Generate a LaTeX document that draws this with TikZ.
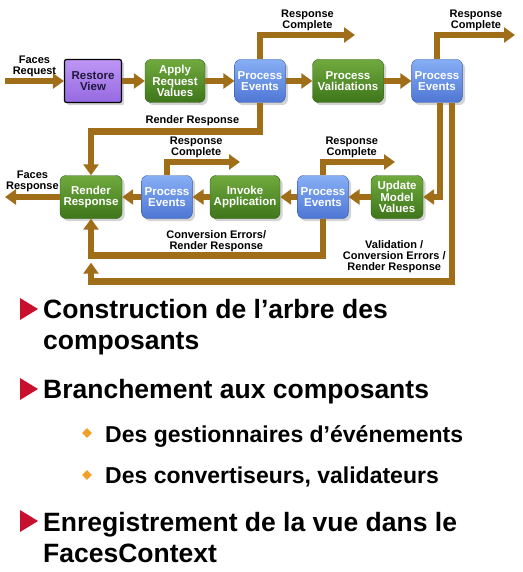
\documentclass[tikz,border=0pt]{standalone}
\usepackage{fontspec}
\setmainfont{Liberation Sans}
\usepackage{xcolor}
\usepackage{tikz}
\usetikzlibrary{positioning, shapes.geometric, arrows.meta, shadows}
\definecolor{flow}{RGB}{160,110,25}
\definecolor{phasetop}{RGB}{112,170,62}
\definecolor{phasebot}{RGB}{62,118,26}
\definecolor{phaseline}{RGB}{48,92,20}
\definecolor{eventtop}{RGB}{135,175,245}
\definecolor{eventbot}{RGB}{78,118,212}
\definecolor{eventline}{RGB}{58,90,168}
\definecolor{restoretop}{RGB}{190,150,245}
\definecolor{restorebot}{RGB}{150,105,225}
\definecolor{restoretext}{RGB}{30,25,60}
\definecolor{marker}{RGB}{200,16,46}
\definecolor{subdot}{RGB}{240,160,40}
\tikzstyle{phase} = [rectangle, rounded corners=6pt, minimum width=52pt, minimum height=43pt, inner xsep=3pt, top color=phasetop, bottom color=phasebot, draw=phaseline, text=white, align=center, font=\fontsize{11.5}{11.5}\selectfont\bfseries, drop shadow={opacity=0.35}]
\tikzstyle{events} = [phase, minimum width=50pt, top color=eventtop, bottom color=eventbot, draw=eventline]
\tikzstyle{restore} = [phase, minimum width=57pt, rounded corners=2pt, top color=restoretop, bottom color=restorebot, draw=black, line width=1.2pt, text=restoretext]
\tikzstyle{arrow} = [draw=flow, line width=6.5pt, -{Triangle[width=15pt,length=11pt]}]
\tikzstyle{note} = [font=\fontsize{11}{11}\selectfont\bfseries, align=center, inner sep=1pt]
\tikzstyle{item} = [font=\fontsize{26.5}{31}\selectfont\bfseries, align=left, inner sep=0pt, anchor=base west]
\tikzstyle{subitem} = [item, font=\fontsize{23}{27}\selectfont\bfseries]
\tikzstyle{tri} = [fill=marker]
\tikzstyle{dot} = [diamond, fill=subdot, minimum size=10pt, inner sep=0pt]
\begin{document}
\begin{tikzpicture}[x=1pt, y=-1pt, node distance=85pt]
		\useasboundingbox (0,0) rectangle (522,572);
		%上面一行
		\node[restore] (view) at (93,81) {Restore\\View};
		\node[phase, right of = view, xshift = -3pt, minimum width=60pt] (apply) {Apply\\Request\\Values};
		\node[events, right of = apply] (events1) {Process\\Events};
		\node[phase, right of = events1, xshift = 3pt, minimum width=71pt] (valid) {Process\\Validations};
		\node[events, right of = valid, xshift = 4pt] (events2) {Process\\Events};
		%下面一行
		\node[phase, below of = view, yshift = -31pt, xshift = -2pt, minimum width=62pt] (render) {Render\\Response};
		\node[events, right of = render, xshift = -9pt] (events3) {Process\\Events};
		\node[phase, right of = events3, xshift = -7pt, minimum width=70pt] (invoke) {Invoke\\Application};
		\node[events, right of = invoke, xshift = -7pt] (events4) {Process\\Events};
		\node[phase, right of = events4, xshift = -11pt] (update) {Update\\Model\\Values};
		\coordinate (req) at (5,81);
		\coordinate (resp) at (5,197);
		\coordinate (done1) at (355,35);
		\coordinate (done2) at (515,35);
		\coordinate (done3) at (240,162);
		\coordinate (done4) at (395,162);
		%连接
		\draw [arrow] (req) -- node[note, above] {Faces\\Request} (view);
		\draw [arrow] (view) -- (apply);
		\draw [arrow] (apply) -- (events1);
		\draw [arrow] (events1) -- (valid);
		\draw [arrow] (valid) -- (events2);
		\draw [arrow] (events1.north) |- node[note, pos=0.75, above] {Response\\Complete} (done1);
		\draw [arrow] (events2.north) |- node[note, pos=0.75, above] {Response\\Complete} (done2);
		\draw [arrow] (events1.south) |- node[note, pos=0.7, above=1pt] {Render Response} ([yshift=44pt]render.north) -- (render.north);
		\draw [arrow] (update) -- (events4);
		\draw [arrow] (events4) -- (invoke);
		\draw [arrow] (invoke) -- (events3);
		\draw [arrow] (events3) -- (render);
		\draw [arrow] (render) -- node[note, above=1pt] {Faces\\Response} (resp);
		\draw [arrow] (events3.north) |- node[note, pos=0.7, above] {Response\\Complete} (done3);
		\draw [arrow] (events4.north) |- node[note, pos=0.7, above] {Response\\Complete} (done4);
		\draw [arrow] ([xshift=3pt]events2.south) |- (update.east);
		\draw [arrow] (events4.south) |- node[note, pos=0.73, above] {Conversion Errors/\\Render Response} ([yshift=-37pt]render.south) -- (render.south);
		\draw [arrow] ([xshift=15pt]events2.south) |- node[note, pos=0.58, above=5pt] {Validation /\\Conversion Errors /\\Render Response} ([yshift=-63pt]render.south) -- ([yshift=-44pt]render.south);
		%文字
		\fill[tri] (20,298) -- (38,309) -- (20,320) -- cycle;
		\node[item] (t1) at (43,349) {Construction de l’arbre des\\composants};
		\fill[tri] (20,378) -- (38,389) -- (20,400) -- cycle;
		\node[item] (t2) at (43,398) {Branchement aux composants};
		\node[dot] (d1) at (87,433) {};
		\node[subitem] (t3) at (105,442) {Des gestionnaires d’événements};
		\node[dot] (d2) at (87,475) {};
		\node[subitem] (t4) at (105,483) {Des convertiseurs, validateurs};
		\fill[tri] (20,510) -- (38,521) -- (20,532) -- cycle;
		\node[item] (t5) at (43,562) {Enregistrement de la vue dans le\\FacesContext};
	\end{tikzpicture}
\end{document}
